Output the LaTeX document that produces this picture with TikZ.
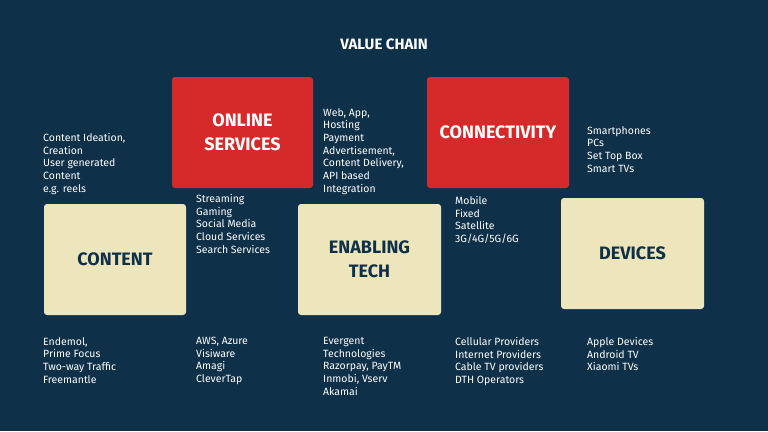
\documentclass[tikz,border=0pt]{standalone}
\usepackage{fontspec}
\setmainfont{Fira Sans}
\definecolor{bg}{HTML}{0F3049}
\definecolor{redbox}{HTML}{D62A2A}
\definecolor{beige}{HTML}{EDE5BC}
\begin{document}
\begin{tikzpicture}[x=1pt,y=-1pt,
  box/.style={rounded corners=3pt,inner sep=0pt,align=center,font=\fontsize{18}{24}\selectfont\bfseries},
  rbox/.style={box,fill=redbox,text=white},
  bbox/.style={box,fill=beige,text=bg},
  info/.style={anchor=north west,inner sep=0pt,align=left,text=white,font=\fontsize{10.5}{12.7}\selectfont}]
\fill[bg] (0,0) rectangle (768,431);
\useasboundingbox (0,0) rectangle (768,431);
\node[text=white,font=\fontsize{15}{18}\selectfont\bfseries] (title) at (384,44) {VALUE CHAIN};
\node[rbox,minimum width=141pt,minimum height=111pt] (online) at (242.5,132.5) {ONLINE\\SERVICES};
\node[rbox,minimum width=142pt,minimum height=111pt] (conn) at (498,132.5) {CONNECTIVITY};
\node[bbox,minimum width=142pt,minimum height=111pt] (content) at (115,259.5) {CONTENT};
\node[bbox,minimum width=143pt,minimum height=111pt] (tech) at (369.5,259.5) {ENABLING\\TECH};
\node[bbox,minimum width=143pt,minimum height=111pt] (dev) at (632.5,253.5) {DEVICES};
\node[info] (t1) at (43,133) {Content Ideation,\\Creation\\User generated\\Content\\e.g. reels};
\node[info] (t2) at (196,194) {Streaming\\Gaming\\Social Media\\Cloud Services\\Search Services};
\node[info] (t3) at (323,108) {Web, App,\\Hosting\\Payment\\Advertisement,\\Content Delivery,\\API based\\Integration};
\node[info] (t4) at (455,196) {Mobile\\Fixed\\Satellite\\3G/4G/5G/6G};
\node[info] (t5) at (587,126) {Smartphones\\PCs\\Set Top Box\\Smart TVs};
\node[info] (b1) at (43,337) {Endemol,\\Prime Focus\\Two-way Traffic\\Freemantle};
\node[info] (b2) at (196,337) {AWS, Azure\\Visiware\\Amagi\\CleverTap};
\node[info] (b3) at (323,337) {Evergent\\Technologies\\Razorpay, PayTM\\Inmobi, Vserv\\Akamai};
\node[info] (b4) at (455,337) {Cellular Providers\\Internet Providers\\Cable TV providers\\DTH Operators};
\node[info] (b5) at (587,337) {Apple Devices\\Android TV\\Xiaomi TVs};
\end{tikzpicture}
\end{document}
